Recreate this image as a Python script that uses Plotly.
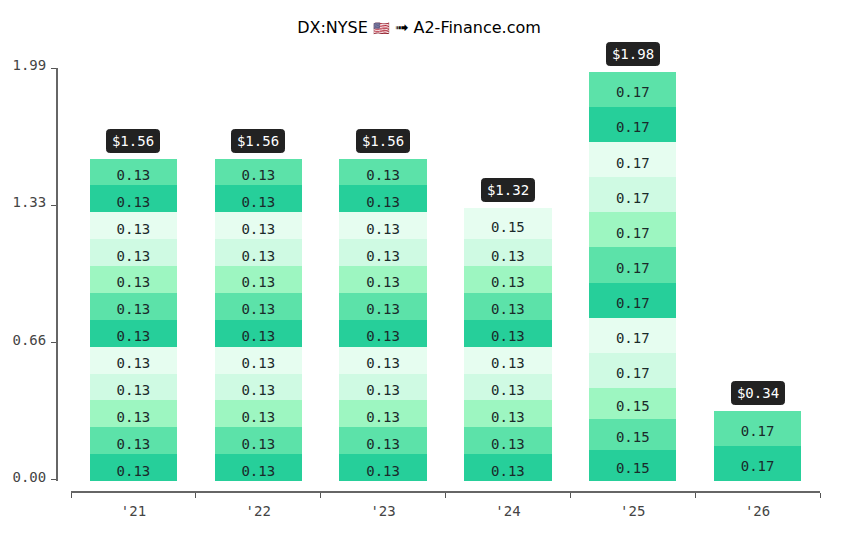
import plotly.graph_objects as go

years = ["'21", "'22", "'23", "'24", "'25", "'26"]
v21 = [0.13] * 12
v22 = [0.13] * 12
v23 = [0.13] * 12
v24 = [0.13] * 9 + [0.15]
v25 = [0.15] * 3 + [0.17] * 9
v26 = [0.17, 0.17]
series = [v21, v22, v23, v24, v25, v26]
totals = [1.56, 1.56, 1.56, 1.32, 1.98, 0.34]
y_tick_labels = ["0.00", "0.66", "1.33", "1.99"]
y_tick_at = [0.005, 0.669, 1.334, 1.998]
palette = ["#26CF9A", "#5CE2A9", "#9DF6C1", "#CFFAE3", "#E6FDF0"]

fig = go.Figure()
for i in range(12):
    xs, ys = [], []
    for yr, vals in zip(years, series):
        if i < len(vals):
            xs.append(yr)
            ys.append(vals[i])
    fig.add_bar(
        x=xs, y=ys,
        text=[f"{v:.2f}" for v in ys],
        textposition="inside", insidetextanchor="middle", textangle=0,
        constraintext="none",
        textfont=dict(family="DejaVu Sans Mono", size=14, color="#1a2a2a"),
        marker=dict(color=palette[i % 5], line=dict(width=0)),
        width=0.7, showlegend=False, cliponaxis=False, hoverinfo="skip",
    )

for yr, t in zip(years, totals):
    fig.add_annotation(
        x=yr, y=t, xref="x", yref="y", text=f"${t:.2f}", showarrow=False,
        yanchor="bottom", yshift=6, width=46, height=16,
        font=dict(family="DejaVu Sans Mono", size=14, color="#fff"),
        bgcolor="#222222", bordercolor="#222222", borderwidth=1, borderpad=3,
    )

OFF = 8  # page offset of the figure
W, H = 850 - OFF * 2, 535 - OFF * 2
L, R, T, B = 57 - OFF, 30 - OFF, 68 - OFF, 43 - OFF
pw, ph = W - L - R, H - T - B
fig.update_layout(
    width=W, height=H, barmode="stack", bargap=0.3,
    paper_bgcolor="#fff", plot_bgcolor="#fff",
    margin=dict(l=L, r=R, t=T, b=B, autoexpand=False),
    title=dict(
        text='DX:NYSE <span style="font-size:13.5px">🇺🇸</span> ➟ A2-Finance.com',
        font=dict(family="DejaVu Sans", size=16, color="#000"),
        x=(419 - 57) / pw, xref="paper", xanchor="center",
        y=1 - (27 - OFF) / H, yref="container", yanchor="middle",
    ),
    xaxis=dict(
        type="category", categoryorder="array", categoryarray=years,
        domain=[(71 - 57) / pw, 1], range=[-0.5, 5.5],
        tickson="boundaries", ticks="outside", ticklen=5, tickwidth=1, tickcolor="#555",
        showline=True, linecolor="#666", linewidth=2,
        showgrid=False, zeroline=False, anchor="free", position=0,
        ticklabelstandoff=6,
        tickfont=dict(family="DejaVu Sans Mono", size=14, color="#444"),
    ),
    yaxis=dict(
        domain=[(492 - 481) / ph, 1], range=[0, 1.998],
        tickmode="array", tickvals=y_tick_at, ticktext=y_tick_labels,
        ticks="outside", ticklen=5, tickwidth=1, tickcolor="#555",
        showline=True, linecolor="#666", linewidth=2,
        showgrid=False, zeroline=False, anchor="free", position=0,
        ticklabelstandoff=2, ticklabelshift=-3,
        tickfont=dict(family="DejaVu Sans Mono", size=14, color="#444"),
    ),
)
fig.write_html("out.html", config=dict(displayModeBar=False),
               post_script="""
document.querySelectorAll('.annotation rect.bg').forEach(r=>{r.setAttribute('rx',3);r.setAttribute('ry',3);});
document.querySelectorAll('.bars .point text').forEach(t=>{t.setAttribute('dy','3');});
""")
